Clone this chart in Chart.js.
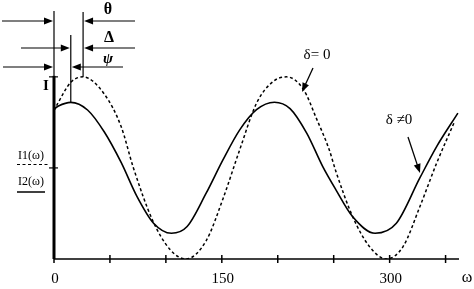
<!DOCTYPE html>
<html>
<head>
<meta charset="utf-8">
<script src="https://cdn.jsdelivr.net/npm/chart.js@4/dist/chart.umd.min.js"></script>
<style>
  html, body { margin: 0; padding: 0; background: #fff; }
</style>
</head>
<body>
<canvas id="chart" width="474" height="289"></canvas>
<script>
// values (intensity normalised so the dashed peak = 1)
const solidOmega = [0, 4, 15, 30, 45, 60, 74, 89, 105, 119, 136, 151, 166, 181, 197, 211, 226, 240, 252, 267, 287, 306, 327, 342, 361];
const solidI     = [0.823, 0.840, 0.860, 0.818, 0.697, 0.530, 0.345, 0.196, 0.141, 0.178, 0.361, 0.544, 0.709, 0.820, 0.861, 0.826, 0.690, 0.510, 0.380, 0.232, 0.141, 0.196, 0.445, 0.617, 0.801];

const dashedOmega = [0, 3, 15, 26, 45, 60, 71, 88, 104, 118, 136, 151, 166, 181, 196, 208, 223, 235, 246, 252, 267, 282, 297, 312, 327, 342, 358];
const dashedI     = [0.815, 0.850, 0.970, 1.0, 0.905, 0.727, 0.50, 0.214, 0.050, 0.0, 0.10, 0.33, 0.60, 0.855, 0.975, 1.0, 0.930, 0.765, 0.60, 0.48, 0.232, 0.068, 0.0, 0.068, 0.287, 0.526, 0.754];

const xTicks = [0, 50, 100, 150, 200, 250, 300, 350];
const xLabelValues = [0, 150, 300];
const xLabels = ['0', '150', '300'];
const yTicks = [0.5, 1.0];
const xMax = 362;

const serif = '"Liberation Serif", "DejaVu Serif", serif';

function toPoints(xs, ys) {
  return xs.map((w, i) => ({ x: w, y: ys[i] }));
}

// first peak only (the phase markers point at the first maximum)
function firstPeak(xs, ys) {
  let best = 0;
  ys.forEach((v, i) => { if (xs[i] < 100 && v > ys[best]) best = i; });
  return { w: xs[best], v: ys[best] };
}

function line(ctx, x1, y1, x2, y2) {
  ctx.beginPath();
  ctx.moveTo(x1, y1);
  ctx.lineTo(x2, y2);
  ctx.stroke();
}

// line with a filled head at (x2, y2)
function arrow(ctx, x1, y1, x2, y2, len = 9, half = 3.5) {
  const a = Math.atan2(y2 - y1, x2 - x1);
  line(ctx, x1, y1, x2 - Math.cos(a) * len * 0.6, y2 - Math.sin(a) * len * 0.6);
  ctx.beginPath();
  ctx.moveTo(x2, y2);
  ctx.lineTo(x2 - Math.cos(a) * len - Math.sin(a) * half, y2 - Math.sin(a) * len + Math.cos(a) * half);
  ctx.lineTo(x2 - Math.cos(a) * len + Math.sin(a) * half, y2 - Math.sin(a) * len - Math.cos(a) * half);
  ctx.closePath();
  ctx.fill();
}

const axisPlugin = {
  id: 'axisPlugin',
  afterDatasetsDraw(chart) {
    const { ctx } = chart;
    const x = chart.scales.x, y = chart.scales.y;
    const x0 = x.getPixelForValue(0);
    const yBase = y.getPixelForValue(0);
    const yTop = y.getPixelForValue(1.0);

    ctx.save();
    ctx.strokeStyle = '#000';
    ctx.fillStyle = '#000';

    // x axis with crossing ticks
    ctx.lineWidth = 1.5;
    line(ctx, x0, yBase, x.getPixelForValue(xMax), yBase);
    xTicks.forEach(t => {
      const px = x.getPixelForValue(t);
      line(ctx, px, yBase - 4, px, yBase + 4);
    });
    ctx.font = '15px ' + serif;
    ctx.textAlign = 'center';
    ctx.textBaseline = 'middle';
    xLabelValues.forEach((v, i) => ctx.fillText(xLabels[i], x.getPixelForValue(v) + 1, 279));
    ctx.font = '16px ' + serif;
    ctx.fillText('ω', 467, 278);

    // y axis: thin reference line above, thick axis below
    ctx.lineWidth = 1.2;
    line(ctx, x0, 11, x0, yBase);
    ctx.lineWidth = 3;
    line(ctx, x0, yTop - 1, x0, yBase);
    ctx.lineWidth = 1.2;
    yTicks.forEach(v => {
      const py = y.getPixelForValue(v);
      line(ctx, x0 - 5, py, x0 + 4, py);
    });
    ctx.font = 'bold 15px ' + serif;
    ctx.fillText('I', 46, 86);

    // legend at left
    ctx.font = '12px ' + serif;
    ctx.textAlign = 'left';
    ctx.fillText('I1(ω)', 18, 156);
    ctx.fillText('I2(ω)', 18, 182);
    ctx.lineWidth = 1.2;
    ctx.setLineDash([3, 2.5]);
    line(ctx, 17, 164.5, 48, 164.5);
    ctx.setLineDash([]);
    ctx.lineWidth = 1.5;
    line(ctx, 17, 192, 45, 192);

    // phase markers at the two first peaks
    const ps = firstPeak(solidOmega, solidI);
    const pd = firstPeak(dashedOmega, dashedI);
    const xs = x.getPixelForValue(ps.w);
    const xd = x.getPixelForValue(pd.w);
    ctx.lineWidth = 1.2;
    line(ctx, xd, 12, xd, y.getPixelForValue(pd.v));
    line(ctx, xs, 35, xs, y.getPixelForValue(ps.v));

    arrow(ctx, 2, 21, x0 - 1, 21);
    arrow(ctx, 135, 21, xd + 1, 21);
    arrow(ctx, 21, 48, xs - 1, 48);
    arrow(ctx, 135, 48, xd + 1, 48);
    arrow(ctx, 3, 67, x0 - 1, 67);
    arrow(ctx, 123, 67, xs + 1, 67);

    ctx.textAlign = 'center';
    ctx.font = 'bold 16px ' + serif;
    ctx.fillText('θ', 108, 10);
    ctx.fillText('Δ', 109, 38);
    ctx.font = 'italic bold 15px ' + serif;
    ctx.fillText('ψ', 108, 59);

    // curve labels
    ctx.font = '15px ' + serif;
    ctx.fillText('δ= 0', 317, 55);
    ctx.fillText('δ ≠0', 399, 120);
    ctx.lineWidth = 1.3;
    arrow(ctx, 313, 68, 302, 92);
    arrow(ctx, 408, 137, 420, 173);

    ctx.restore();
  }
};

new Chart(document.getElementById('chart'), {
  type: 'line',
  data: {
    datasets: [
      {
        label: 'I1(ω)',
        data: toPoints(dashedOmega, dashedI),
        borderColor: '#000',
        borderWidth: 1.5,
        borderDash: [3, 2.5],
        pointRadius: 0,
        cubicInterpolationMode: 'monotone',
        fill: false
      },
      {
        label: 'I2(ω)',
        data: toPoints(solidOmega, solidI),
        borderColor: '#000',
        borderWidth: 1.6,
        pointRadius: 0,
        cubicInterpolationMode: 'monotone',
        fill: false
      }
    ]
  },
  options: {
    responsive: false,
    animation: false,
    layout: { padding: { left: 54, right: 15, top: 4, bottom: 30 } },
    plugins: {
      legend: { display: false },
      tooltip: { enabled: false }
    },
    scales: {
      x: { type: 'linear', min: 0, max: xMax, display: false },
      y: { min: 0, max: 1.4, display: false }
    }
  },
  plugins: [axisPlugin]
});
</script>
</body>
</html>
